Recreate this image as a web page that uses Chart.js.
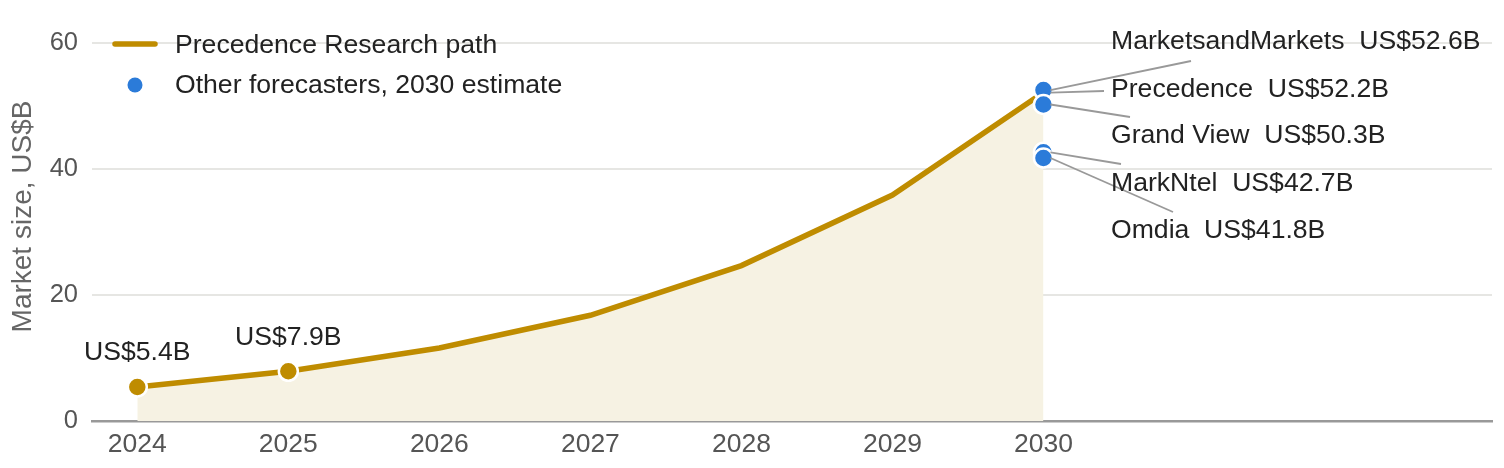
<!DOCTYPE html>
<html>
<head>
<meta charset="utf-8">
<script src="https://cdn.jsdelivr.net/npm/chart.js@4.4.1/dist/chart.umd.min.js"></script>
<style>
  html, body { margin: 0; padding: 0; background: #fff; }
</style>
</head>
<body>
<canvas id="grafico" width="1504" height="468"></canvas>
<script>
// datos
const anios = [2024, 2025, 2026, 2027, 2028, 2029, 2030];
const precedencia = [5.4, 7.9, 11.6, 16.8, 24.7, 35.9, 52.2];
const fuentes = ['MarketsandMarkets', 'Precedence', 'Grand View', 'MarkNtel', 'Omdia'];
const estimaciones = [52.6, 52.2, 50.3, 42.7, 41.8];
const ticksY = [0, 20, 40, 60];
const etiquetasPunto = ['US$5.4B', 'US$7.9B'];

const ORO = '#bf8c00';
const AZUL = '#2b7bd9';
const FUENTE = "'Liberation Sans', Arial, sans-serif";

// puntos azules: todos menos Precedence (ya esta en la linea)
const otros = [];
fuentes.forEach(function (f, i) {
    if (f !== 'Precedence') otros.push({ x: 2030, y: estimaciones[i] });
});

const lineaData = anios.map(function (a, i) { return { x: a, y: precedencia[i] }; });

// etiquetas a la derecha: posicion del texto y final de la linea guia
const guias = [
    { ty: 42,  ex: 1191, ey: 61 },
    { ty: 90,  ex: 1104, ey: 91 },
    { ty: 136, ex: 1130, ey: 117 },
    { ty: 184, ex: 1121, ey: 164 },
    { ty: 231, ex: 1173, ey: 212 }
];

const pluginTextos = {
    id: 'textos',
    afterDatasetsDraw: function (chart) {
        const ctx = chart.ctx;
        const xs = chart.scales.x;
        const ys = chart.scales.y;
        ctx.save();

        // etiquetas de 2024 y 2025
        ctx.font = '26.6px ' + FUENTE;
        ctx.fillStyle = '#222';
        ctx.textAlign = 'center';
        ctx.textBaseline = 'middle';
        etiquetasPunto.forEach(function (t, i) {
            ctx.fillText(t, xs.getPixelForValue(anios[i]), ys.getPixelForValue(precedencia[i]) - 34);
        });

        // lineas guia + textos de 2030
        const x30 = xs.getPixelForValue(2030);
        ctx.strokeStyle = '#999';
        ctx.lineWidth = 1.8;
        fuentes.forEach(function (f, i) {
            const g = guias[i];
            ctx.beginPath();
            ctx.moveTo(x30 + 7, ys.getPixelForValue(estimaciones[i]));
            ctx.lineTo(g.ex, g.ey);
            ctx.stroke();
        });
        ctx.textAlign = 'left';
        fuentes.forEach(function (f, i) {
            ctx.fillText(f + '  US$' + estimaciones[i].toFixed(1) + 'B', 1111, guias[i].ty);
        });

        // leyenda
        ctx.strokeStyle = ORO;
        ctx.lineWidth = 5.5;
        ctx.lineCap = 'round';
        ctx.beginPath();
        ctx.moveTo(115, 44);
        ctx.lineTo(155, 44);
        ctx.stroke();
        ctx.fillStyle = AZUL;
        ctx.beginPath();
        ctx.arc(135, 85, 7.5, 0, Math.PI * 2);
        ctx.fill();
        ctx.fillStyle = '#222';
        ctx.fillText('Precedence Research path', 175, 46);
        ctx.fillText('Other forecasters, 2030 estimate', 175, 86);

        ctx.restore();
    }
};

const grafica = document.querySelector('#grafico');
const miGrafico = new Chart(grafica, {
    type: 'line',
    data: {
        datasets: [
            {
                type: 'scatter',
                label: 'Other forecasters, 2030 estimate',
                data: otros,
                pointRadius: 9.5,
                pointHoverRadius: 9.5,
                pointBackgroundColor: AZUL,
                pointBorderColor: '#fff',
                pointBorderWidth: 2.5
            },
            {
                label: 'Precedence Research path',
                data: lineaData,
                borderColor: ORO,
                borderWidth: 5.5,
                backgroundColor: '#f6f2e3',
                fill: 'origin',
                tension: 0,
                pointRadius: [9.5, 9.5, 0, 0, 0, 0, 0],
                pointBackgroundColor: ORO,
                pointBorderColor: '#fff',
                pointBorderWidth: 2.5
            }
        ]
    },
    options: {
        responsive: false,
        animation: false,
        layout: { padding: { top: 10, right: 8, left: 0, bottom: 0 } },
        plugins: {
            legend: { display: false },
            tooltip: { enabled: false }
        },
        scales: {
            x: {
                type: 'linear',
                min: 2023.7,
                max: 2032.97,
                afterBuildTicks: function (scale) {
                    scale.ticks = anios.map(function (v) { return { value: v }; });
                },
                afterFit: function (scale) {
                    scale.height = 47;
                    scale.paddingLeft = 0;
                    scale.paddingRight = 0;
                },
                grid: { display: false, drawTicks: false },
                border: { color: '#999', width: 2.5 },
                ticks: {
                    padding: 8,
                    color: '#555',
                    font: { family: FUENTE, size: 26.5 },
                    maxRotation: 0,
                    callback: function (v) { return String(v); }
                }
            },
            y: {
                min: 0,
                max: 65,
                afterBuildTicks: function (scale) {
                    scale.ticks = ticksY.map(function (v) { return { value: v }; });
                },
                afterFit: function (scale) {
                    scale.width = 92;
                    scale.paddingTop = 0;
                    scale.paddingBottom = 0;
                },
                grid: { color: '#e6e6e3', lineWidth: 2, drawTicks: false },
                border: { display: false },
                ticks: {
                    padding: 14,
                    color: '#555',
                    font: { family: FUENTE, size: 25.5 }
                },
                title: {
                    display: true,
                    text: 'Market size, US$B',
                    color: '#666',
                    font: { family: FUENTE, size: 28 },
                    padding: { top: 6, bottom: 0 }
                }
            }
        }
    },
    plugins: [pluginTextos]
});
</script>
</body>
</html>
